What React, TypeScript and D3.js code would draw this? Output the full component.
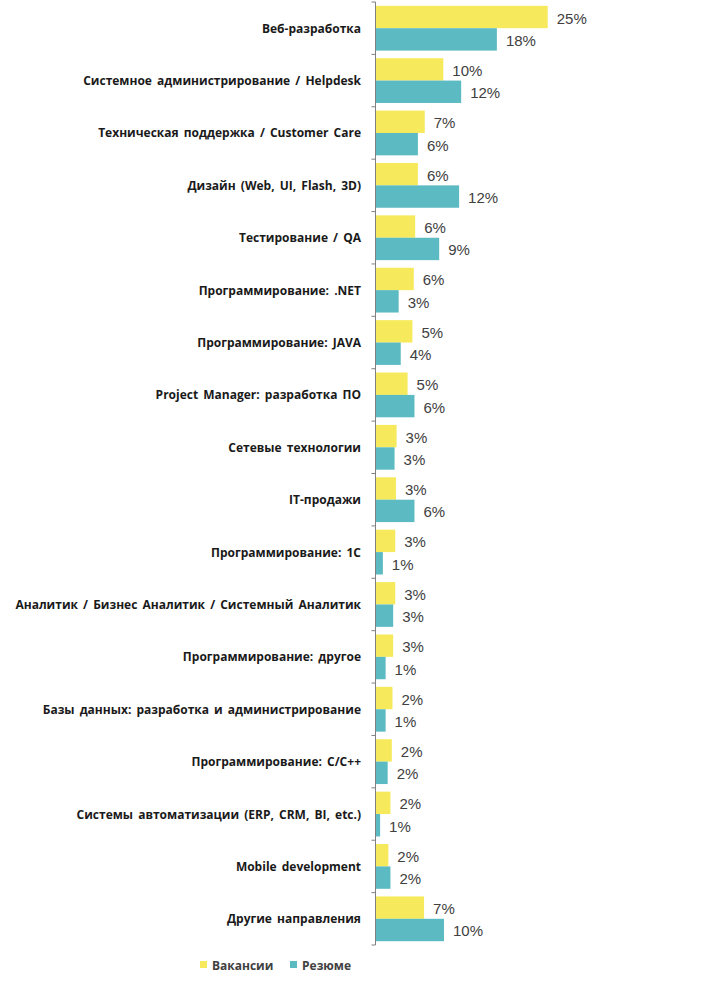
import React from "react";
import * as d3 from "d3";

const categories = [
  "Веб-разработка",
  "Системное администрирование / Helpdesk",
  "Техническая поддержка / Customer Care",
  "Дизайн (Web, UI, Flash, 3D)",
  "Тестирование / QA",
  "Программирование:  .NET",
  "Программирование:  JAVA",
  "Project Manager: разработка  ПО",
  "Сетевые технологии",
  "IT-продажи",
  "Программирование:  1С",
  "Аналитик / Бизнес Аналитик / Системный Аналитик",
  "Программирование:  другое",
  "Базы данных: разработка  и администрирование",
  "Программирование:  C/C++",
  "Системы автоматизации (ERP, CRM, BI, etc.)",
  "Mobile development",
  "Другие направления",
];

const vacancies = [25, 9.8, 7.1, 6.1, 5.7, 5.5, 5.3, 4.6, 3.0, 2.9, 2.8, 2.8, 2.5, 2.4, 2.3, 2.1, 1.8, 7.0];
const resumes = [17.6, 12.4, 6.1, 12.1, 9.2, 3.3, 3.6, 5.6, 2.7, 5.6, 1.0, 2.5, 1.4, 1.4, 1.7, 0.6, 2.1, 9.9];

const seriesNames = ["Вакансии", "Резюме"];
const colors = ["#F6EA5C", "#5CBAC3"];

export default function App() {
  const W = 720;
  const H = 1001;
  const axisX = 375.5;
  const top = 2;
  const bottom = 945;

  const y = d3.scaleBand<string>().domain(categories).range([top, bottom]).paddingInner(0).paddingOuter(0);
  const inner = d3
    .scaleBand<string>()
    .domain(seriesNames)
    .range([0, y.bandwidth()])
    .paddingOuter(0.17)
    .paddingInner(0);
  const x = d3.scaleLinear().domain([0, 25]).range([axisX + 0.5, 547.7]);

  const series = [vacancies, resumes];
  const labelFont = "'Open Sans', 'Noto Sans', sans-serif";

  return (
    <svg
      width={W}
      height={H}
      style={{ position: "absolute", left: 0, top: 0, background: "#fff" }}
    >
      {categories.map((c, i) => (
        <g key={c}>
          {series.map((vals, s) => {
            const yy = (y(c) as number) + (inner(seriesNames[s]) as number);
            const v = vals[i];
            return (
              <g key={s}>
                <rect
                  x={x(0)}
                  y={yy}
                  width={x(v) - x(0)}
                  height={inner.bandwidth()}
                  fill={colors[s]}
                />
                <text
                  x={x(v) + 9}
                  y={yy + inner.bandwidth() / 2 + 1}
                  dominantBaseline="central"
                  fontFamily="'Liberation Sans', Arial, sans-serif"
                  fontSize={15}
                  fill="#404040"
                >
                  {Math.round(v)}%
                </text>
              </g>
            );
          })}
          <text
            x={361}
            y={(y(c) as number) + y.bandwidth() / 2}
            dominantBaseline="central"
            textAnchor="end"
            fontFamily={labelFont}
            fontWeight="bold"
            fontSize={12}
            wordSpacing={2}
            fill="#1a1a1a"
          >
            {c}
          </text>
        </g>
      ))}
      <line x1={axisX} x2={axisX} y1={top} y2={bottom} stroke="#808080" strokeWidth={1} />
      {d3.range(categories.length + 1).map((k) => {
        const ty = top + k * y.step();
        return <line key={k} x1={axisX - 4} x2={axisX} y1={ty} y2={ty} stroke="#808080" strokeWidth={1} />;
      })}
      {seriesNames.map((n, s) => {
        const lx = [200, 290][s];
        return (
          <g key={n}>
            <rect x={lx} y={961} width={7} height={7} fill={colors[s]} />
            <text
              x={lx + 12}
              y={965}
              dominantBaseline="central"
              fontFamily={labelFont}
              fontWeight="bold"
              fontSize={12}
              fill="#404040"
            >
              {n}
            </text>
          </g>
        );
      })}
    </svg>
  );
}
